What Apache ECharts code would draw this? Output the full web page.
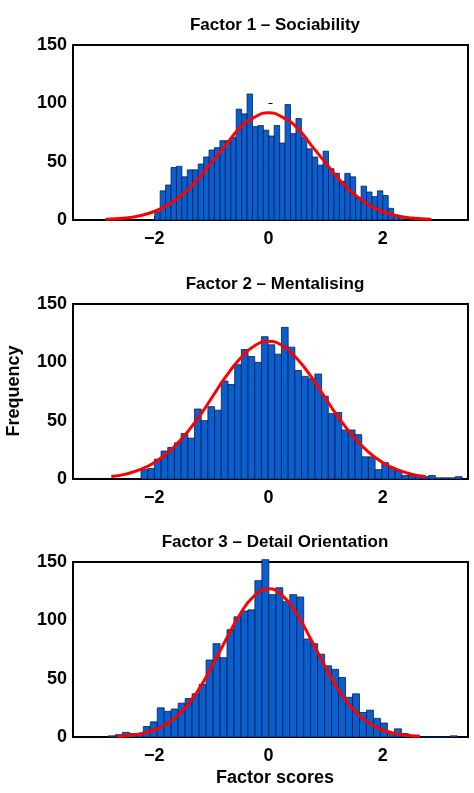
<!DOCTYPE html>
<html><head><meta charset="utf-8">
<script src="https://cdn.jsdelivr.net/npm/echarts@6/dist/echarts.min.js"></script>
<style>html,body{margin:0;padding:0;background:#fff}#c{width:474px;height:793px}</style>
</head><body><div id="c"></div>
<script>
const titles = ['Factor 1 \u2013 Sociability', 'Factor 2 \u2013 Mentalising', 'Factor 3 \u2013 Detail Orientation'];
const binStart = [-1.99, -2.23, -2.80];
const binWidth = [0.095, 0.117, 0.122];
const counts1 = [7,25,30,45,46,37,43,43,48,54,60,62,68,68,71,95,91,108,80,81,77,72,81,66,99,74,87,71,61,54,47,59,44,40,33,40,37,19,29,24,20,25,21,10,4,3];
const counts2 = [8,9,17,24,27,31,39,35,60,50,62,59,84,81,98,111,105,100,122,115,107,130,113,93,88,86,90,71,56,57,42,42,38,19,19,8,14,10,7,3,3,2,2,3,1,1,1,2];
const counts3 = [1,2,4,3,3,9,13,25,22,24,29,33,37,45,66,80,68,92,103,108,109,134,152,122,128,116,122,120,84,80,71,61,58,51,34,37,21,23,16,12,3,7,3,1,0,0,0,0,0,1];
const curveX1 = [-2.85,-2.5,-2.25,-2,-1.75,-1.5,-1.25,-1,-0.75,-0.5,-0.25,0,0.25,0.5,0.75,1,1.25,1.5,1.75,2,2.25,2.5,2.85];
const curveY1 = [0.6,1.8,3.7,7.3,13.2,22,34,49,64,79,88,92,88,79,64,49,34,22,13.2,7.3,3.7,1.8,0.6];
const curveX2 = [-2.75,-2.5,-2.25,-2,-1.75,-1.5,-1.25,-1,-0.75,-0.5,-0.25,0,0.25,0.5,0.75,1,1.25,1.5,1.75,2,2.25,2.5,2.75];
const curveY2 = [2.1,4.2,8,14,23,35.6,51,69,87.5,103,114,118,114,103,87.5,69,51,35.6,23,14,8,4.2,2.1];
const curveX3 = [-2.65,-2.5,-2.25,-2,-1.75,-1.5,-1.25,-1,-0.75,-0.5,-0.25,0,0.25,0.5,0.75,1,1.25,1.5,1.75,2,2.25,2.5,2.65];
const curveY3 = [0.6,1.1,2.7,6,12.3,22.8,38.6,59.5,83,105,121,127,121,105,83,59.5,38.6,22.8,12.3,6,2.7,1.1,0.6];
const xTicks = [-2, 0, 2];

const counts = [counts1, counts2, counts3];
const curves = [[curveX1, curveY1], [curveX2, curveY2], [curveX3, curveY3]];
const tops = [45, 304, 562];
const font = 'Liberation Sans, Arial, sans-serif';

const option = {
  animation: false,
  title: titles.map((t, i) => ({
    text: t, left: 270, top: tops[i] - 33, textAlign: 'center',
    textStyle: {fontFamily: font, fontWeight: 'bold', fontSize: 17, color: '#000'}
  })).concat([
    {text: 'Factor scores', left: 270, top: 764, textAlign: 'center', textStyle: {fontFamily: font, fontWeight: 'bold', fontSize: 18, color: '#000'}}
  ]),
  graphic: [{type: 'text', x: 14, y: 391, rotation: Math.PI / 2,
    style: {text: 'Frequency', fontFamily: font, fontWeight: 'bold', fontSize: 18, fill: '#000', align: 'center', verticalAlign: 'middle'}}],
  grid: tops.map(t => ({left: 73, width: 395, top: t, height: 175, show: true, borderColor: '#000', borderWidth: 2, backgroundColor: '#fff'})),
  xAxis: tops.map((t, i) => ({
    type: 'value', gridIndex: i, min: -3.42, max: 3.49,
    splitLine: {show: false}, axisLine: {show: false},
    axisTick: {show: true, inside: true, length: 4, customValues: xTicks, lineStyle: {color: '#000'}},
    axisLabel: {customValues: xTicks, color: '#000', fontFamily: font, fontWeight: 'bold', fontSize: 18, margin: 10,
      formatter: v => v < 0 ? '\u2212' + Math.abs(v) : String(v)}
  })),
  yAxis: tops.map((t, i) => ({
    type: 'value', gridIndex: i, min: 0, max: 150, interval: 50,
    splitLine: {show: false}, axisLine: {show: false},
    axisTick: {show: true, inside: true, length: 4, lineStyle: {color: '#000'}},
    axisLabel: {color: '#000', fontFamily: font, fontWeight: 'bold', fontSize: 18, margin: 6}
  })),
  series: []
};

counts.forEach((arr, i) => {
  const data = arr.map((c, k) => [binStart[i] + k * binWidth[i], c, binStart[i] + (k + 1) * binWidth[i]]);
  option.series.push({
    type: 'custom', xAxisIndex: i, yAxisIndex: i, clip: false,
    data: data, encode: {x: [0, 2], y: 1},
    renderItem: (params, api) => {
      const p0 = api.coord([api.value(0), 0]);
      const p1 = api.coord([api.value(2), api.value(1)]);
      return {type: 'rect', shape: {x: p0[0], y: p1[1], width: p1[0] - p0[0], height: p0[1] - p1[1]},
        style: {fill: '#0a5fd0', stroke: '#0a1f4a', lineWidth: 0.8}};
    }
  });
  option.series.push({
    type: 'line', xAxisIndex: i, yAxisIndex: i, smooth: true, symbol: 'none',
    data: curves[i][0].map((x, k) => [x, curves[i][1][k]]),
    lineStyle: {color: '#ff0000', width: 3}, z: 5
  });
});

const chart = echarts.init(document.getElementById('c'));
chart.setOption(option);
</script></body></html>
